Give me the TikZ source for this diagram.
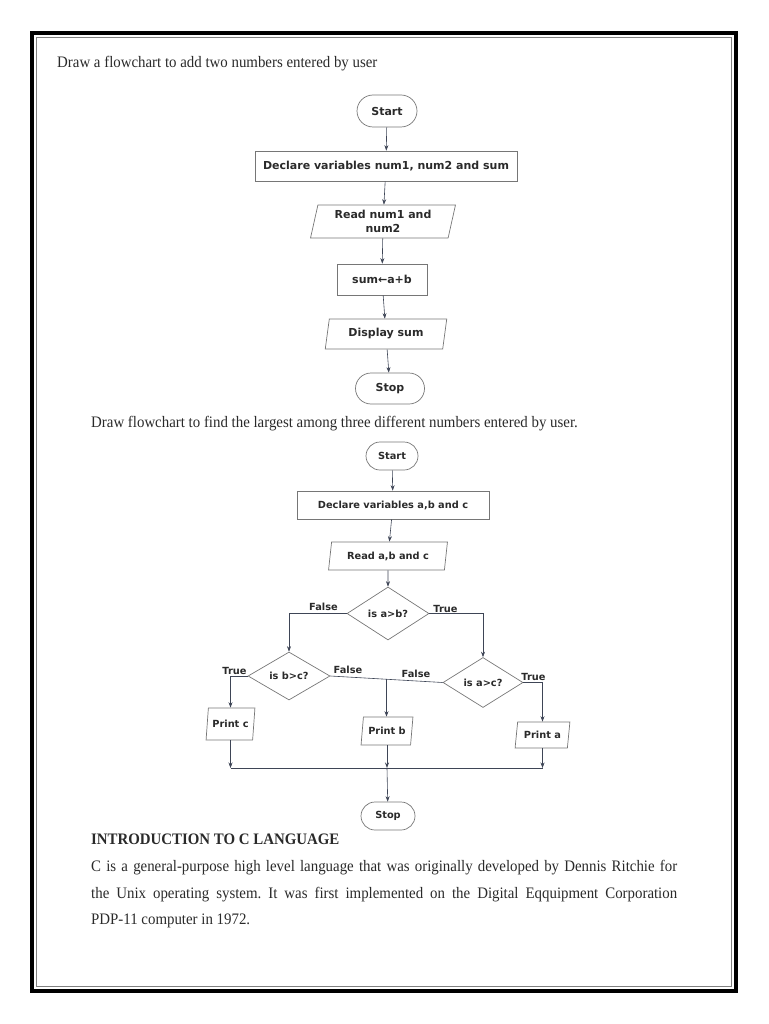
\documentclass[tikz,border=0pt]{standalone}
\usepackage{fontspec}
\setmainfont{Liberation Serif}[FakeStretch=0.93]
\newfontfamily\chartFont{DejaVu Sans}
\usetikzlibrary{shapes.geometric,shapes.misc,arrows.meta,calc}
\definecolor{boxLine}{HTML}{767676}
\definecolor{flowLine}{HTML}{3E4556}
\definecolor{inkText}{HTML}{2A2A2A}
\newcommand{\bodySize}{\fontsize{16}{19}\selectfont}
\newcommand{\firstSize}{\chartFont\bfseries\fontsize{11}{13.5}\selectfont}
\newcommand{\secondSize}{\chartFont\bfseries\fontsize{9.8}{12}\selectfont}
\frenchspacing

\begin{document}
\begin{tikzpicture}[x=1pt, y=-1pt,
         every node/.style={text=inkText},
         term/.style={rounded rectangle, draw=boxLine, line width=0.7pt, inner sep=0pt},
         proc/.style={rectangle, draw=boxLine, line width=0.7pt, inner sep=0pt},
         io/.style={trapezium, trapezium left angle=76, trapezium right angle=104,
                    trapezium stretches=true, draw=boxLine, line width=0.7pt, inner sep=0pt, align=center},
         decide/.style={diamond, draw=boxLine, line width=0.7pt, inner sep=0pt},
         flow/.style={draw=flowLine, line width=0.6pt, -{Stealth[length=5.5pt,width=4pt]}},
         link/.style={draw=flowLine, line width=0.6pt},
         tag/.style={font=\secondSize, inner sep=0pt},
         say/.style={anchor=base west, font=\bodySize, inner xsep=0pt}]
         \useasboundingbox (0,0) rectangle (768,1024);

         % page frame
         \draw[line width=4pt] (32,33) rectangle (736,991);
         \draw[line width=0.8pt, gray] (36.5,37.5) rectangle (731.5,986.5);

         \node[say] (title1) at (57,68) {Draw a flowchart to add two numbers entered by user};

         % first flowchart
         \node[term, minimum width=60pt, minimum height=32pt, font=\firstSize] (start1) at (387,111) {Start};
         \node[proc, minimum width=262pt, minimum height=30pt, font=\firstSize] (decl1) at (386,166)
              {Declare variables num1, num2 and sum};
         \node[io, minimum width=145pt, minimum height=33pt, font=\firstSize] (read1) at (383,221.5)
              {Read num1 and\\num2};
         \node[proc, minimum width=90pt, minimum height=31pt, font=\firstSize] (sum1) at (382,279.5) {sum←a+b};
         \node[io, minimum width=122pt, minimum height=30pt, font=\firstSize] (disp1) at (386,334) {Display sum};
         \node[term, minimum width=69pt, minimum height=31pt, font=\firstSize] (stop1) at (390,388.5) {Stop};

         \draw[flow] (start1) -- (decl1);
         \draw[flow] (decl1) -- (read1);
         \draw[flow] (read1) -- (sum1);
         \draw[flow] (sum1) -- (disp1);
         \draw[flow] (disp1) -- (stop1);

         \node[say] (title2) at (91,427)
              {Draw flowchart to find the largest among three different numbers entered by user.};

         % second flowchart
         \node[term, minimum width=52pt, minimum height=28pt, font=\secondSize] (start2) at (392,456) {Start};
         \node[proc, minimum width=192pt, minimum height=28pt, font=\secondSize] (decl2) at (393,505)
              {Declare variables a,b and c};
         \node[io, minimum width=120pt, minimum height=28pt, font=\secondSize] (read2) at (388,556) {Read a,b and c};
         \node[decide, minimum width=82pt, minimum height=53pt, font=\secondSize] (ab) at (388,613.5) {is a>b?};
         \node[decide, minimum width=82pt, minimum height=48pt, font=\secondSize] (bc) at (289,676) {is b>c?};
         \node[decide, minimum width=80pt, minimum height=50pt, font=\secondSize] (ac) at (483,682.5) {is a>c?};
         \node[io, minimum width=49pt, minimum height=32pt, font=\secondSize] (printc) at (230.5,724) {Print c};
         \node[io, minimum width=52pt, minimum height=28pt, font=\secondSize] (printb) at (387,731) {Print b};
         \node[io, minimum width=55pt, minimum height=26pt, font=\secondSize] (printa) at (542.5,735) {Print a};
         \node[term, minimum width=54pt, minimum height=28pt, font=\secondSize] (stop2) at (388,816) {Stop};
         \coordinate (join) at (387,768);
         \coordinate (split) at ($(bc.east)!0.5!(ac.west)$);

         \draw[flow] (start2) -- (decl2);
         \draw[flow] (decl2) -- (read2);
         \draw[flow] (read2) -- (ab);
         \draw[flow] (ab.west) -| (bc.north);
         \draw[flow] (ab.east) -| (ac.north);
         \draw[flow] (bc.west) -| (printc.north);
         \draw[flow] (ac.east) -| (printa.north);
         \draw[link] (bc.east) -- (ac.west);
         \draw[flow] (split) -- (split |- printb.north);
         \draw[flow] (printc.south) -- (printc.south |- join);
         \draw[flow] (printb.south) -- (printb.south |- join);
         \draw[flow] (printa.south) -- (printa.south |- join);
         \draw[link] (printc.south |- join) -- (printa.south |- join);
         \draw[flow] (join) -- (stop2);

         \node[tag] (falseAB) at (323.5,607) {False};
         \node[tag] (trueAB) at (445.5,609) {True};
         \node[tag] (trueBC) at (234.5,671) {True};
         \node[tag] (falseBC) at (348,670) {False};
         \node[tag] (falseAC) at (416,674) {False};
         \node[tag] (trueAC) at (533.5,677) {True};

         % text below
         \node[say, font=\bodySize\bfseries] (heading) at (91,844) {INTRODUCTION TO C LANGUAGE};
         \node[say] (para1) at (91,871)
              {\makebox[586pt][s]{C is a general-purpose high level language that was originally developed by Dennis Ritchie for}};
         \node[say] (para2) at (91,898)
              {\makebox[586pt][s]{the Unix operating system. It was first implemented on the Digital Eqquipment Corporation}};
         \node[say] (para3) at (91,924) {PDP-11 computer in 1972.};
      \end{tikzpicture}
\end{document}
